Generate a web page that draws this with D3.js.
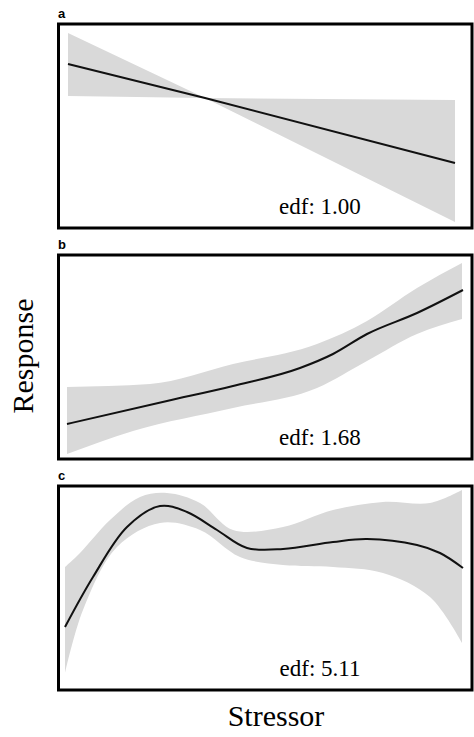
<!DOCTYPE html>
<html><head><meta charset="utf-8">
<script src="https://cdn.jsdelivr.net/npm/d3@7"></script>
<style>body{margin:0;background:#fff}</style></head>
<body><svg id="c" width="474" height="737"></svg>
<script>
// values (x = stressor, y = response, arbitrary units)
const aFit   = [[68, 164], [205, 130], [455, 65]];
const aUpper = [[68, 195], [205, 130], [455, 128]];
const aLower = [[68, 132], [205, 130], [455, 6]];

const bFit   = [[67,35],[167,58],[233,73],[300,91],[333,105],[367,125],[417,146],[463,169]];
const bUpper = [[67,72],[150,75],[233,95],[317,115],[367,138],[417,171],[462,196]];
const bLower = [[67,5],[133,28],[233,51],[317,71],[367,98],[417,125],[462,140]];

const cFit   = [[65,63],[93,113],[127,163],[160,184],[187,178],[217,160],[247,142],[283,141],[333,148],[367,151],[417,145],[440,137],[463,122]];
const cUpper = [[65,123],[80,137],[110,170],[140,193],[167,197],[200,187],[233,160],[283,163],[333,180],[383,188],[430,187],[462,200]];
const cLower = [[65,17],[83,80],[117,143],[160,167],[200,160],[240,133],[283,125],[333,123],[383,117],[430,93],[462,47]];

const panels = [
  {label: "a", edf: "edf: 1.00", top: 24,  fit: aFit, upper: aUpper, lower: aLower, curve: d3.curveLinear},
  {label: "b", edf: "edf: 1.68", top: 255, fit: bFit, upper: bUpper, lower: bLower, curve: d3.curveMonotoneX},
  {label: "c", edf: "edf: 5.11", top: 486, fit: cFit, upper: cUpper, lower: cLower, curve: d3.curveCatmullRom}
];

const serif = "Liberation Serif, DejaVu Serif, serif";
const svg = d3.select("#c");
const H = 204, L = 57, R = 472;
const x = d3.scaleLinear().domain([L, R]).range([L, R]);

panels.forEach(p => {
  const y = d3.scaleLinear().domain([0, H]).range([p.top + H, p.top]);
  const g = svg.append("g");
  const ln = d3.line().x(d => x(d[0])).y(d => y(d[1])).curve(p.curve);
  // band: upper edge forward, lower edge back
  const dU = ln(p.upper);
  const dL = ln(p.lower.slice().reverse()).replace(/^M/, "L");
  g.append("path").attr("d", dU + dL + "Z").attr("fill", "#d9d9d9");
  g.append("path").attr("d", ln(p.fit)).attr("fill", "none")
    .attr("stroke", "#111").attr("stroke-width", 2);
  g.append("rect").attr("x", L + 1.5).attr("y", p.top).attr("width", R - L - 1.5).attr("height", H)
    .attr("fill", "none").attr("stroke", "#000").attr("stroke-width", 3);
  g.append("text").attr("x", 58).attr("y", p.top - 6).text(p.label)
    .attr("font-family", "Liberation Sans, Arial").attr("font-weight", "bold").attr("font-size", 13);
  g.append("text").attr("x", 320).attr("y", p.top + H - 14).attr("text-anchor", "middle")
    .text(p.edf).attr("font-family", serif).attr("font-size", 23);
});

svg.append("text").attr("transform", "translate(33,356) rotate(-90)").attr("text-anchor", "middle")
  .text("Response").attr("font-family", serif).attr("font-size", 30);
svg.append("text").attr("x", 276).attr("y", 726).attr("text-anchor", "middle")
  .text("Stressor").attr("font-family", serif).attr("font-size", 30);
</script></body></html>
